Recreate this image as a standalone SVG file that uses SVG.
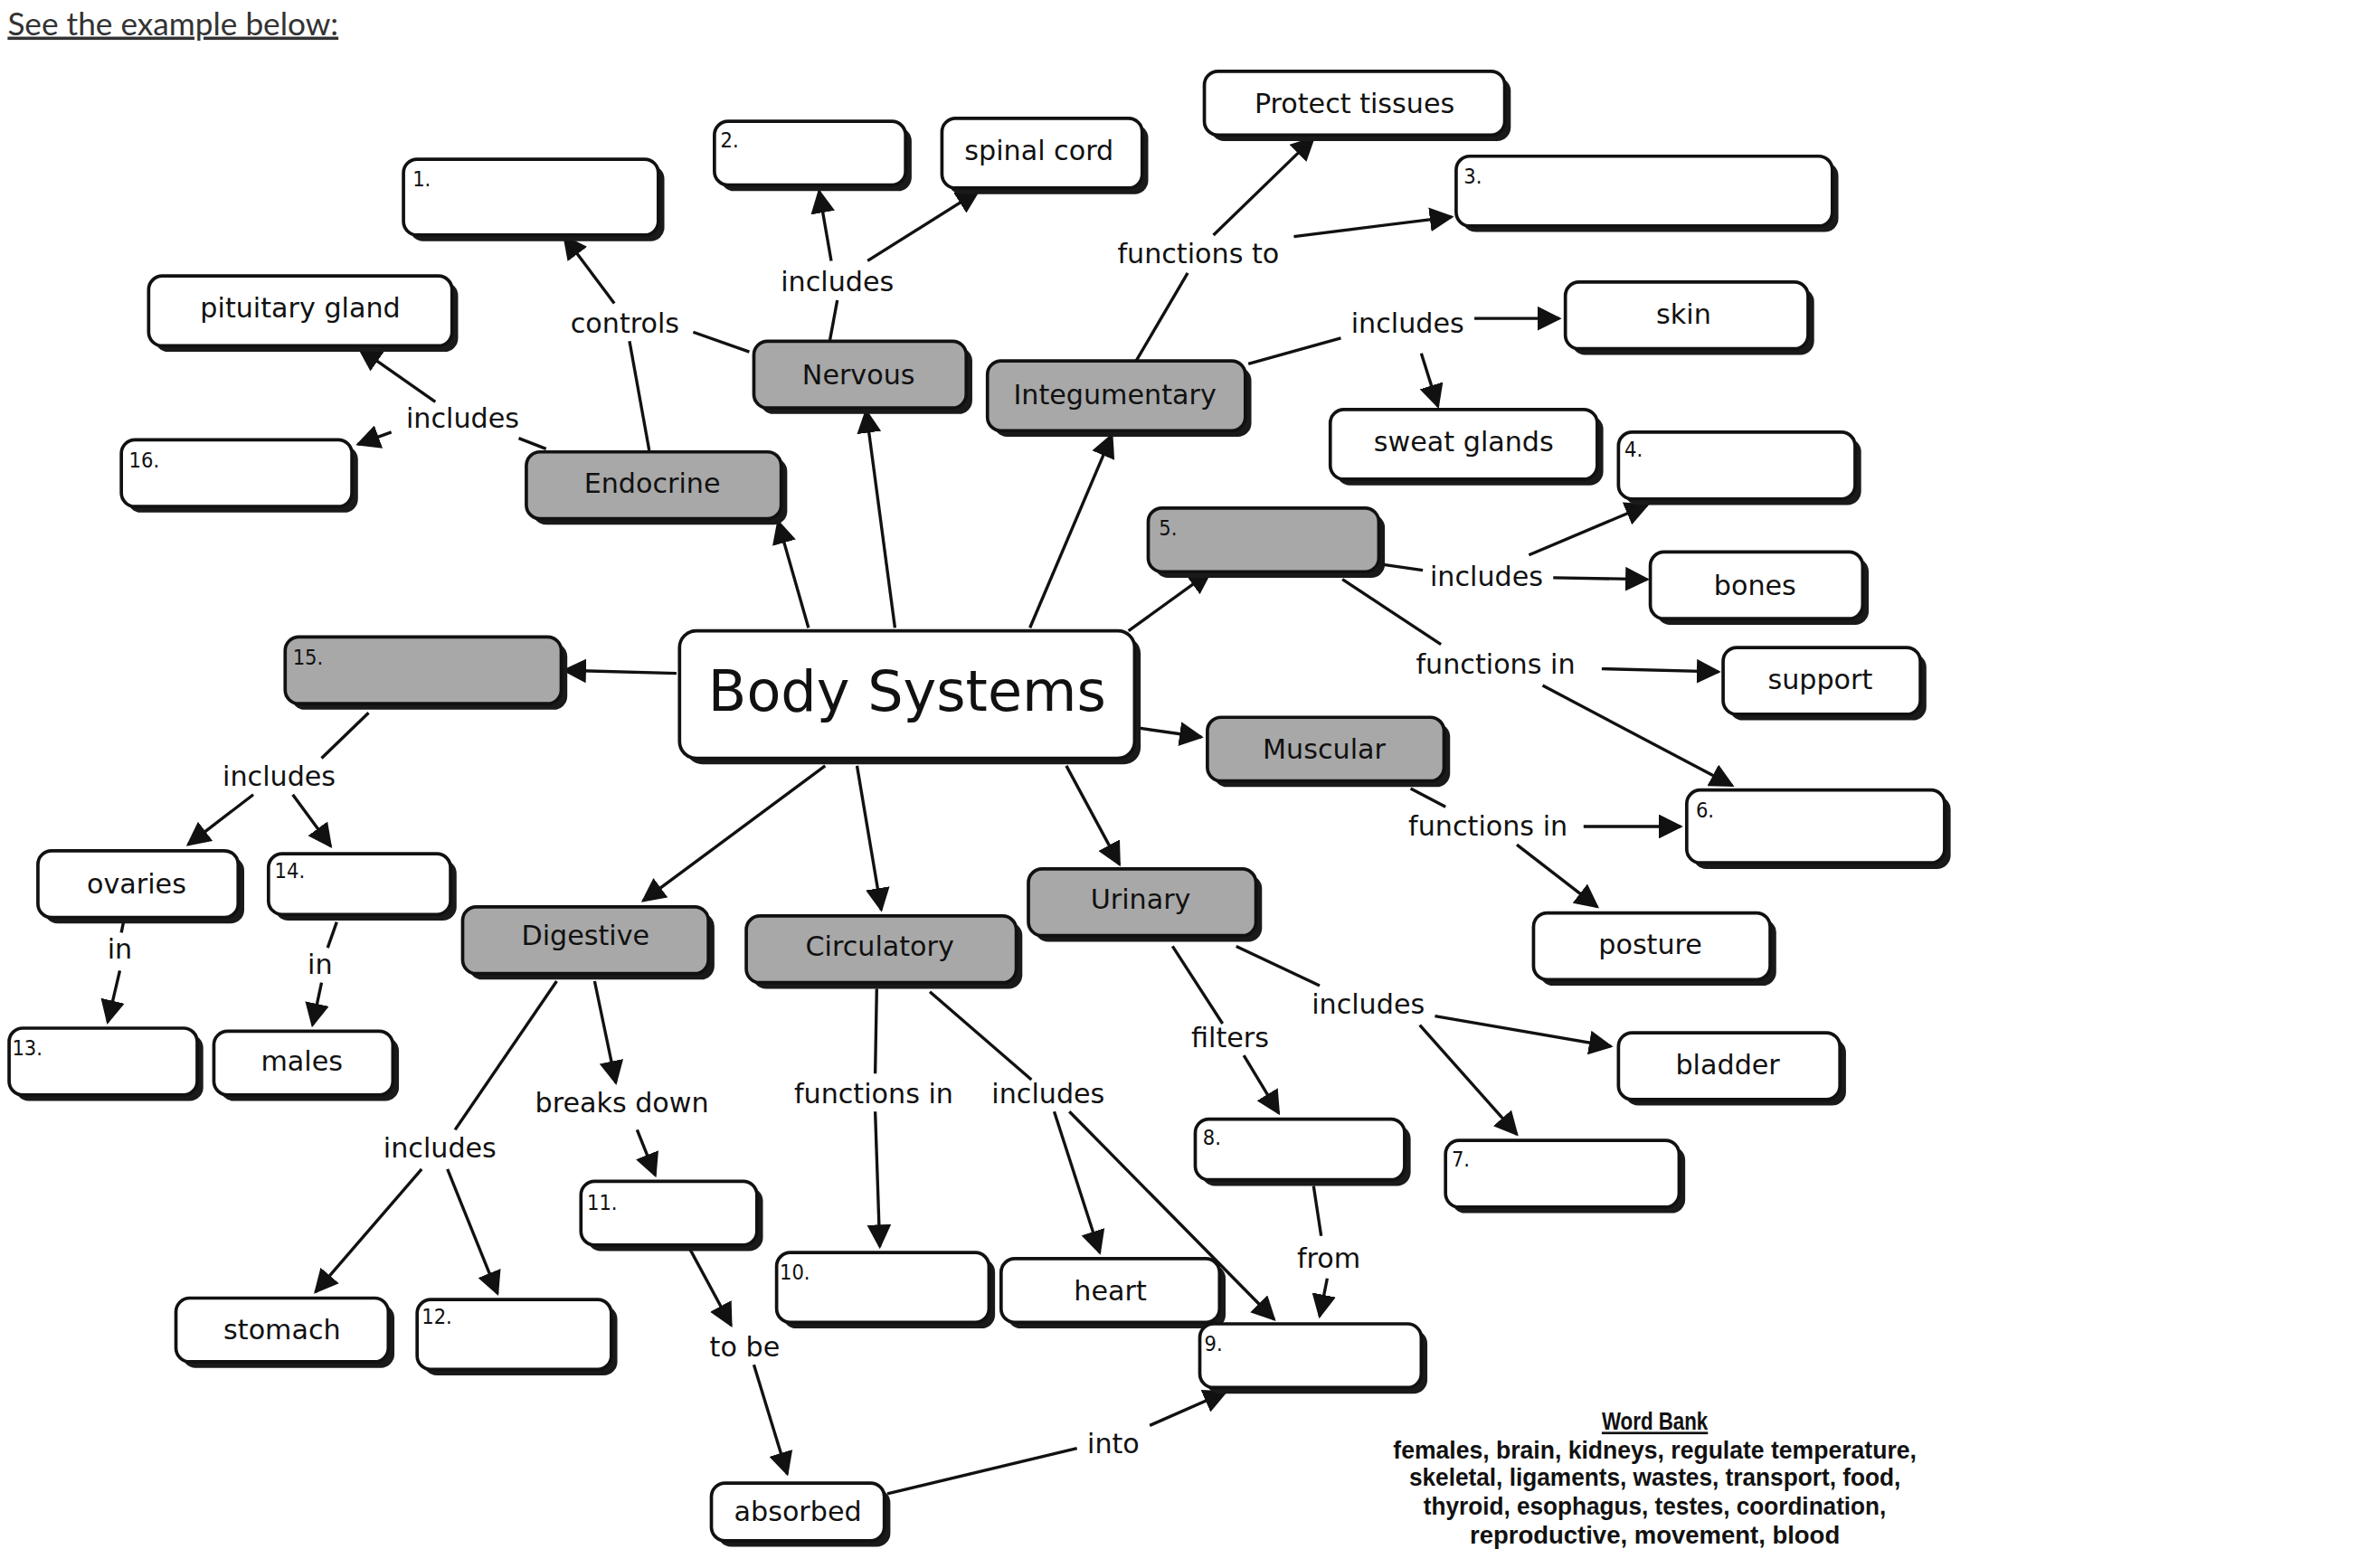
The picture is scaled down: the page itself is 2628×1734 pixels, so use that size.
<svg xmlns="http://www.w3.org/2000/svg" width="2628" height="1734" viewBox="0 0 2628 1734">
<defs>
<style>
.b{fill:#fff;stroke:#111;stroke-width:2.2}
.g{fill:#a8a8a8;stroke:#111;stroke-width:2.2}
.s{fill:#1a1a1a}
.t{font-family:"DejaVu Sans",sans-serif;font-size:18px;fill:#111;text-anchor:middle;dominant-baseline:central}
.n{font-family:"DejaVu Sans Condensed","DejaVu Sans",sans-serif;font-size:14px;fill:#111}
.l{font-family:"DejaVu Sans",sans-serif;font-size:18px;fill:#111;text-anchor:middle;dominant-baseline:central}
.c line{stroke:#111;stroke-width:2}
.c .a{marker-end:url(#ah)}
.wb{font-family:"Liberation Sans",Arial,sans-serif;font-size:16px;font-weight:bold;fill:#111;text-anchor:middle}
</style>
<marker id="ah" viewBox="0 0 10 10" refX="9" refY="5" markerWidth="16" markerHeight="16" markerUnits="userSpaceOnUse" orient="auto"><path d="M0,0 L10,5 L0,10 z" fill="#111"/></marker>
</defs>
<rect width="2628" height="1734" fill="#fff"/>
<g transform="scale(1.677 1.677)">
<text x="5" y="23" style="font-family:Lato,'Open Sans',sans-serif;font-size:21px;fill:#333;text-decoration:underline">See the example below:</text>
<g class="c" id="connectors">
<line x1="547" y1="225" x2="552" y2="198"/><line class="a" x1="548" y1="172" x2="540" y2="126"/>
<line class="a" x1="572" y1="172" x2="645" y2="126"/>
<line x1="494" y1="232" x2="457" y2="219"/><line class="a" x1="405" y1="200" x2="372" y2="156"/>
<line x1="428" y1="297" x2="415" y2="225"/>
<line x1="360" y1="296" x2="342" y2="289"/><line class="a" x1="287" y1="265" x2="237" y2="230"/><line class="a" x1="258" y1="285" x2="236" y2="293"/>
<line class="a" x1="533" y1="414" x2="513" y2="344"/>
<line class="a" x1="590" y1="414" x2="571" y2="271"/>
<line class="a" x1="679" y1="414" x2="733" y2="287"/>
<line x1="749" y1="238" x2="783" y2="180"/><line class="a" x1="800" y1="155" x2="866" y2="91"/><line class="a" x1="853" y1="156" x2="957" y2="143"/>
<line x1="823" y1="240" x2="884" y2="223"/><line class="a" x1="972" y1="210" x2="1028" y2="210"/><line class="a" x1="937" y1="233" x2="948" y2="268"/>
<line class="a" x1="744" y1="416" x2="798" y2="377"/>
<line x1="910" y1="372" x2="938" y2="376"/><line class="a" x1="1008" y1="366" x2="1086" y2="333"/><line class="a" x1="1024" y1="381" x2="1086" y2="382"/>
<line x1="885" y1="382" x2="950" y2="425"/><line class="a" x1="1056" y1="441" x2="1133" y2="443"/><line class="a" x1="1017" y1="452" x2="1142" y2="518"/>
<line class="a" x1="446" y1="444" x2="372" y2="442"/>
<line x1="243" y1="470" x2="212" y2="500"/><line class="a" x1="167" y1="524" x2="124" y2="557"/><line class="a" x1="193" y1="524" x2="218" y2="558"/>
<line x1="82" y1="605" x2="80" y2="615"/><line class="a" x1="79" y1="640" x2="71" y2="674"/>
<line x1="222" y1="608" x2="216" y2="625"/><line class="a" x1="212" y1="648" x2="206" y2="676"/>
<line class="a" x1="750" y1="480" x2="792" y2="486"/>
<line x1="930" y1="520" x2="953" y2="532"/><line class="a" x1="1044" y1="545" x2="1108" y2="545"/><line class="a" x1="1000" y1="557" x2="1053" y2="598"/>
<line class="a" x1="544" y1="505" x2="424" y2="594"/>
<line class="a" x1="565" y1="505" x2="581" y2="600"/>
<line class="a" x1="703" y1="505" x2="738" y2="570"/>
<line x1="815" y1="624" x2="870" y2="650"/><line class="a" x1="946" y1="670" x2="1062" y2="690"/><line class="a" x1="936" y1="676" x2="1000" y2="748"/>
<line x1="773" y1="624" x2="806" y2="675"/><line class="a" x1="820" y1="696" x2="843" y2="734"/>
<line x1="866" y1="782" x2="871" y2="815"/><line class="a" x1="875" y1="843" x2="870" y2="868"/>
<line class="a" x1="392" y1="647" x2="406" y2="714"/><line class="a" x1="420" y1="745" x2="432" y2="775"/>
<line x1="367" y1="647" x2="300" y2="745"/><line class="a" x1="278" y1="771" x2="208" y2="852"/><line class="a" x1="295" y1="771" x2="328" y2="853"/>
<line class="a" x1="455" y1="824" x2="482" y2="874"/><line class="a" x1="497" y1="900" x2="519" y2="972"/>
<line x1="585" y1="985" x2="710" y2="955"/><line class="a" x1="758" y1="940" x2="808" y2="918"/>
<line x1="578" y1="652" x2="577" y2="708"/><line class="a" x1="577" y1="733" x2="580" y2="822"/>
<line x1="613" y1="654" x2="680" y2="712"/><line class="a" x1="695" y1="733" x2="725" y2="826"/><line class="a" x1="705" y1="733" x2="840" y2="870"/>
</g>
<g id="labels">
<text class="l" x="552" y="186">includes</text>
<text class="l" x="412" y="213">controls</text>
<text class="l" x="790" y="167">functions to</text>
<text class="l" x="928" y="213">includes</text>
<text class="l" x="305" y="276">includes</text>
<text class="l" x="980" y="380">includes</text>
<text class="l" x="986" y="438">functions in</text>
<text class="l" x="184" y="512">includes</text>
<text class="l" x="981" y="545">functions in</text>
<text class="l" x="79" y="626">in</text>
<text class="l" x="211" y="636">in</text>
<text class="l" x="902" y="662">includes</text>
<text class="l" x="811" y="684">filters</text>
<text class="l" x="410" y="727">breaks down</text>
<text class="l" x="576" y="721">functions in</text>
<text class="l" x="691" y="721">includes</text>
<text class="l" x="290" y="757">includes</text>
<text class="l" x="876" y="830">from</text>
<text class="l" x="491" y="888">to be</text>
<text class="l" x="734" y="952">into</text>
</g>
<g id="n1"><rect class="s" x="270" y="109" width="168" height="50" rx="9"/><rect class="b" x="266" y="105" width="168" height="50" rx="9"/><text class="n" x="272" y="123">1.</text></g>
<g id="n2"><rect class="s" x="475" y="84" width="126" height="42" rx="9"/><rect class="b" x="471" y="80" width="126" height="42" rx="9"/><text class="n" x="475" y="97">2.</text></g>
<g id="spinal"><rect class="s" x="625" y="82" width="132" height="46" rx="9"/><rect class="b" x="621" y="78" width="132" height="46" rx="9"/><text class="t" x="685" y="99">spinal cord</text></g>
<g id="protect"><rect class="s" x="798" y="51" width="198" height="42" rx="9"/><rect class="b" x="794" y="47" width="198" height="42" rx="9"/><text class="t" x="893" y="68">Protect tissues</text></g>
<g id="n3"><rect class="s" x="964" y="107" width="248" height="46" rx="9"/><rect class="b" x="960" y="103" width="248" height="46" rx="9"/><text class="n" x="965" y="121">3.</text></g>
<g id="pituitary"><rect class="s" x="102" y="186" width="200" height="46" rx="9"/><rect class="b" x="98" y="182" width="200" height="46" rx="9"/><text class="t" x="198" y="203">pituitary gland</text></g>
<g id="skin"><rect class="s" x="1036" y="190" width="160" height="44" rx="9"/><rect class="b" x="1032" y="186" width="160" height="44" rx="9"/><text class="t" x="1110" y="207">skin</text></g>
<g id="sweat"><rect class="s" x="881" y="274" width="176" height="46" rx="9"/><rect class="b" x="877" y="270" width="176" height="46" rx="9"/><text class="t" x="965" y="291">sweat glands</text></g>
<g id="n16"><rect class="s" x="84" y="294" width="152" height="44" rx="9"/><rect class="b" x="80" y="290" width="152" height="44" rx="9"/><text class="n" x="85" y="308">16.</text></g>
<g id="nervous"><rect class="s" x="501" y="229" width="140" height="44" rx="9"/><rect class="g" x="497" y="225" width="140" height="44" rx="9"/><text class="t" x="566" y="247">Nervous</text></g>
<g id="integumentary"><rect class="s" x="655" y="242" width="170" height="46" rx="9"/><rect class="g" x="651" y="238" width="170" height="46" rx="9"/><text class="t" x="735" y="260">Integumentary</text></g>
<g id="endocrine"><rect class="s" x="351" y="302" width="168" height="44" rx="9"/><rect class="g" x="347" y="298" width="168" height="44" rx="9"/><text class="t" x="430" y="319">Endocrine</text></g>
<g id="n4"><rect class="s" x="1071" y="289" width="156" height="44" rx="9"/><rect class="b" x="1067" y="285" width="156" height="44" rx="9"/><text class="n" x="1071" y="301">4.</text></g>
<g id="n5"><rect class="s" x="761" y="339" width="152" height="42" rx="9"/><rect class="g" x="757" y="335" width="152" height="42" rx="9"/><text class="n" x="764" y="353">5.</text></g>
<g id="bones"><rect class="s" x="1092" y="368" width="140" height="44" rx="9"/><rect class="b" x="1088" y="364" width="140" height="44" rx="9"/><text class="t" x="1157" y="386">bones</text></g>
<g id="support"><rect class="s" x="1140" y="431" width="130" height="44" rx="9"/><rect class="b" x="1136" y="427" width="130" height="44" rx="9"/><text class="t" x="1200" y="448">support</text></g>
<g id="n15"><rect class="s" x="192" y="424" width="182" height="44" rx="9"/><rect class="g" x="188" y="420" width="182" height="44" rx="9"/><text class="n" x="193" y="438">15.</text></g>
<g id="body"><rect class="s" x="452" y="420" width="300" height="84" rx="11"/><rect class="b" x="448" y="416" width="300" height="84" rx="11"/><text class="t" x="598" y="456" style="font-size:37px">Body Systems</text></g>
<g id="muscular"><rect class="s" x="800" y="477" width="156" height="42" rx="9"/><rect class="g" x="796" y="473" width="156" height="42" rx="9"/><text class="t" x="873" y="494">Muscular</text></g>
<g id="n6"><rect class="s" x="1116" y="525" width="170" height="48" rx="9"/><rect class="b" x="1112" y="521" width="170" height="48" rx="9"/><text class="n" x="1118" y="539">6.</text></g>
<g id="ovaries"><rect class="s" x="29" y="565" width="132" height="44" rx="9"/><rect class="b" x="25" y="561" width="132" height="44" rx="9"/><text class="t" x="90" y="583">ovaries</text></g>
<g id="n14"><rect class="s" x="181" y="567" width="120" height="40" rx="9"/><rect class="b" x="177" y="563" width="120" height="40" rx="9"/><text class="n" x="181" y="579">14.</text></g>
<g id="digestive"><rect class="s" x="309" y="602" width="162" height="44" rx="9"/><rect class="g" x="305" y="598" width="162" height="44" rx="9"/><text class="t" x="386" y="617">Digestive</text></g>
<g id="circulatory"><rect class="s" x="496" y="608" width="178" height="44" rx="9"/><rect class="g" x="492" y="604" width="178" height="44" rx="9"/><text class="t" x="580" y="624">Circulatory</text></g>
<g id="urinary"><rect class="s" x="682" y="577" width="150" height="44" rx="9"/><rect class="g" x="678" y="573" width="150" height="44" rx="9"/><text class="t" x="752" y="593">Urinary</text></g>
<g id="posture"><rect class="s" x="1015" y="606" width="156" height="44" rx="9"/><rect class="b" x="1011" y="602" width="156" height="44" rx="9"/><text class="t" x="1088" y="623">posture</text></g>
<g id="n13"><rect class="s" x="10" y="682" width="124" height="44" rx="9"/><rect class="b" x="6" y="678" width="124" height="44" rx="9"/><text class="n" x="8" y="696">13.</text></g>
<g id="males"><rect class="s" x="145" y="684" width="118" height="42" rx="9"/><rect class="b" x="141" y="680" width="118" height="42" rx="9"/><text class="t" x="199" y="700">males</text></g>
<g id="bladder"><rect class="s" x="1071" y="685" width="146" height="44" rx="9"/><rect class="b" x="1067" y="681" width="146" height="44" rx="9"/><text class="t" x="1139" y="702">bladder</text></g>
<g id="n8"><rect class="s" x="792" y="742" width="138" height="40" rx="9"/><rect class="b" x="788" y="738" width="138" height="40" rx="9"/><text class="n" x="793" y="755">8.</text></g>
<g id="n7"><rect class="s" x="957" y="756" width="154" height="44" rx="9"/><rect class="b" x="953" y="752" width="154" height="44" rx="9"/><text class="n" x="957" y="769">7.</text></g>
<g id="n11"><rect class="s" x="387" y="783" width="116" height="42" rx="9"/><rect class="b" x="383" y="779" width="116" height="42" rx="9"/><text class="n" x="387" y="798">11.</text></g>
<g id="n10"><rect class="s" x="516" y="830" width="140" height="46" rx="9"/><rect class="b" x="512" y="826" width="140" height="46" rx="9"/><text class="n" x="514" y="844">10.</text></g>
<g id="heart"><rect class="s" x="664" y="834" width="144" height="42" rx="9"/><rect class="b" x="660" y="830" width="144" height="42" rx="9"/><text class="t" x="732" y="851">heart</text></g>
<g id="stomach"><rect class="s" x="120" y="860" width="140" height="42" rx="9"/><rect class="b" x="116" y="856" width="140" height="42" rx="9"/><text class="t" x="186" y="877">stomach</text></g>
<g id="n12"><rect class="s" x="279" y="861" width="128" height="46" rx="9"/><rect class="b" x="275" y="857" width="128" height="46" rx="9"/><text class="n" x="278" y="873">12.</text></g>
<g id="n9"><rect class="s" x="795" y="877" width="146" height="42" rx="9"/><rect class="b" x="791" y="873" width="146" height="42" rx="9"/><text class="n" x="794" y="891">9.</text></g>
<g id="absorbed"><rect class="s" x="473" y="982" width="114" height="38" rx="9"/><rect class="b" x="469" y="978" width="114" height="38" rx="9"/><text class="t" x="526" y="997">absorbed</text></g>
<g id="wordbank">
<text class="wb" x="1091" y="943" style="text-decoration:underline" textLength="70" lengthAdjust="spacingAndGlyphs">Word Bank</text>
<text class="wb" x="1091" y="962" textLength="345" lengthAdjust="spacingAndGlyphs">females, brain, kidneys, regulate temperature,</text>
<text class="wb" x="1091" y="980" textLength="324" lengthAdjust="spacingAndGlyphs">skeletal, ligaments, wastes, transport, food,</text>
<text class="wb" x="1091" y="999" textLength="305" lengthAdjust="spacingAndGlyphs">thyroid, esophagus, testes, coordination,</text>
<text class="wb" x="1091" y="1018" textLength="244" lengthAdjust="spacingAndGlyphs">reproductive, movement, blood</text>
</g>
</g>
</svg>
